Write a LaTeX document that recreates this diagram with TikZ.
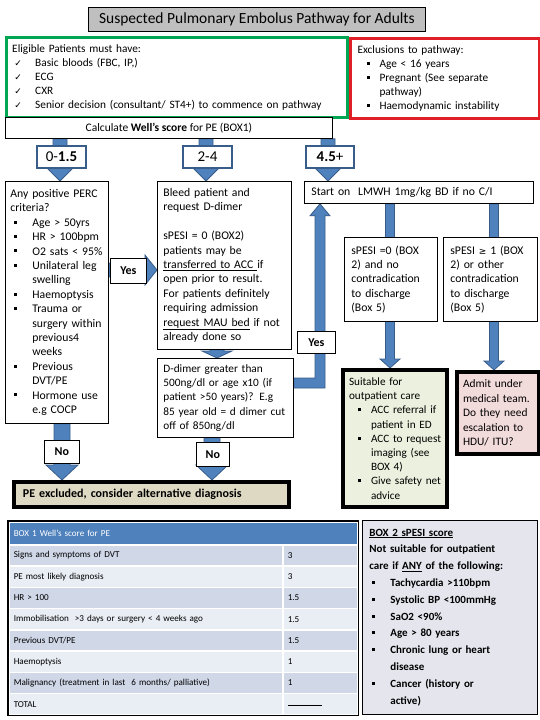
\documentclass[tikz,border=0pt]{standalone}
\usepackage{fontspec}
\setmainfont{Carlito}
\newfontfamily\djv{DejaVu Sans}
\usetikzlibrary{calc,backgrounds}
\definecolor{arrowfill}{RGB}{79,129,189}
\definecolor{arrowline}{RGB}{56,93,138}
\definecolor{titlegray}{RGB}{191,191,191}
\definecolor{eliggreen}{RGB}{0,166,81}
\definecolor{exclred}{RGB}{224,32,38}
\definecolor{pefill}{RGB}{221,217,195}
\definecolor{suitfill}{RGB}{235,241,222}
\definecolor{admitfill}{RGB}{242,220,219}
\definecolor{rowa}{RGB}{208,216,232}
\definecolor{rowb}{RGB}{233,237,244}
\definecolor{boxtwo}{RGB}{229,229,238}
\newcommand{\sqbul}{\rule[2.6pt]{3pt}{3pt}}
\newcommand{\bitem}[3]{\par\hangindent=#2\hangafter=1\noindent\makebox[#2][l]{\hspace{#1}#3}}
\newcommand{\ckm}{\bitem{2pt}{23pt}{{\djv\fontsize{9}{10}\selectfont ✓}}}
\newcommand{\rbul}{\bitem{9pt}{22pt}{\sqbul}}
\newcommand{\pbul}{\bitem{4pt}{22pt}{\sqbul}}
\newcommand{\sbul}{\bitem{9pt}{22pt}{\sqbul}}
\newcommand{\tbul}{\bitem{3pt}{21pt}{\sqbul}}
\newcommand{\nl}{\hfil\break}
\newcommand{\blockdown}[5]{\draw[barrow] ($(#1)+(-#3,0)$) -- ($(#1)+(#3,0)$) -- ($(#2)+(#3,-#5)$) -- ($(#2)+(#4,-#5)$) -- (#2) -- ($(#2)+(-#4,-#5)$) -- ($(#2)+(-#3,-#5)$) -- cycle;}
\newcommand{\blockright}[5]{\draw[barrow] ($(#1)+(0,-#3)$) -- ($(#2)+(-#5,-#3)$) -- ($(#2)+(-#5,-#4)$) -- (#2) -- ($(#2)+(-#5,#4)$) -- ($(#2)+(-#5,#3)$) -- ($(#1)+(0,#3)$) -- cycle;}
\tikzset{
  box/.style={draw, fill=white, line width=0.8pt, anchor=north west, inner xsep=5pt, inner ysep=0pt,
    font=\fontsize{11.7}{14.4}\selectfont,
    execute at begin node={\parindent=0pt\raggedright\rightskip=-12pt plus 2em\hyphenpenalty=10000\exhyphenpenalty=10000}},
  thickbox/.style={box, line width=4pt},
  lab/.style={draw=black, line width=0.8pt, fill=white, anchor=north west, inner sep=0pt, align=center,
    font=\bfseries\fontsize{12}{14}\selectfont},
  scorelab/.style={draw=arrowline, line width=2pt, fill=white, anchor=north west, inner sep=0pt, align=center,
    font=\fontsize{15}{18}\selectfont},
  barrow/.style={fill=arrowfill, draw=arrowline, line width=0.8pt, line join=miter},
  cell/.style={draw=white, line width=1.5pt, anchor=north west, inner xsep=5pt, inner ysep=0pt,
    minimum height=21.25pt, font=\fontsize{9.1}{10}\selectfont, execute at begin node={\raggedright}},
}
\begin{document}
\begin{tikzpicture}[x=1pt,y=-1pt]
\useasboundingbox (0,0) rectangle (540,720);
% title and top boxes
\node[box, fill=titlegray, align=center, minimum width=337pt, minimum height=24pt, font=\fontsize{15.5}{17}\selectfont] (title) at (88,7) {Suspected Pulmonary Embolus Pathway for Adults};
\node[box, draw=eliggreen, line width=2.5pt, inner xsep=6pt, text width=329pt, minimum height=80pt, font=\fontsize{11.3}{14}\selectfont] (elig) at (5,36)
 {Eligible Patients must have:\ckm Basic bloods (FBC, IP,)\ckm ECG\ckm CXR\ckm Senior decision (consultant/ ST4+) to commence on pathway\par};
\node[box, draw=exclred, line width=3pt, inner xsep=7pt, text width=175pt, minimum height=80pt, font=\fontsize{11.3}{14}\selectfont] (excl) at (349,37)
 {Exclusions to pathway:\rbul Age < 16 years\rbul Pregnant (See separate\nl pathway)\rbul Haemodynamic instability\par};
\node[box, align=center, minimum width=327pt, minimum height=21pt, font=\fontsize{11.5}{13}\selectfont] (wells) at (5,117) {Calculate \textbf{Well’s score} for PE (BOX1)};
% main flow boxes
\node[box, text width=93pt, minimum height=242pt] (perc) at (5,181)
 {Any positive PERC\\criteria?\pbul Age > 50yrs\pbul HR > 100bpm\pbul O2 sats < 95\%\pbul Unilateral leg\nl swelling\pbul Haemoptysis\pbul Trauma or\nl surgery within\nl previous4\nl weeks\pbul Previous\nl DVT/PE\pbul Hormone use\nl e.g COCP\par};
\node[box, inner xsep=6pt, text width=122pt, minimum height=168pt] (bleed) at (157,181)
 {Bleed patient and\\request D-dimer\\\mbox{}\\sPESI = 0 (BOX2)\\patients may be\\\underline{transferred to ACC }if\\open prior to result.\\For patients definitely\\requiring admission\\\underline{request MAU bed} if not\\already done so};
\node[box, inner xsep=6pt, text width=124pt, minimum height=79pt, font=\fontsize{11.3}{14.4}\selectfont] (ddimer) at (157,358)
 {D-dimer greater than\\500ng/dl or age x10 (if\\patient >50 years)? E.g\\85 year old = d dimer cut\\off of 850ng/dl};
\node[box, inner xsep=7pt, text width=215pt, minimum height=22pt] (start) at (304,181) {Start on\ \ LMWH 1mg/kg BD if no C/I};
\node[box, inner xsep=7pt, text width=79pt, minimum height=84pt] (spesi0) at (344,237)
 {sPESI =0 (BOX\\2) and no\\contradication\\to discharge\\(Box 5)};
\node[box, inner xsep=7pt, text width=80pt, minimum height=84pt] (spesi1) at (443,237)
 {sPESI {\djv\fontsize{9}{10}\selectfont ≥} 1 (BOX\\2) or other\\contradication\\to discharge\\(Box 5)};
\node[thickbox, fill=suitfill, inner xsep=6pt, text width=92pt, minimum height=137pt, font=\fontsize{11.2}{14.2}\selectfont] (suit) at (341,368)
 {Suitable for\\outpatient care\sbul ACC referral if\nl patient in ED\sbul ACC to request\nl imaging (see\nl BOX 4)\sbul Give safety net\nl advice\par};
\node[thickbox, fill=admitfill, inner xsep=6pt, text width=70pt, minimum height=82pt, font=\fontsize{11.4}{14.4}\selectfont] (admit) at (455,370)
 {Admit under\\medical team.\\Do they need\\escalation to\\HDU/ ITU?};
\node[thickbox, fill=pefill, inner xsep=9pt, text width=257pt, minimum height=25pt, font=\bfseries\fontsize{12}{14}\selectfont] (pe) at (12,480)
 {PE excluded, consider alternative diagnosis};
% labels on arrows
\node[scorelab, minimum width=49pt, minimum height=22pt] (s1) at (36,145) {0-\textbf{1.5}};
\node[scorelab, minimum width=49pt, minimum height=22pt] (s2) at (182,145) {2-4};
\node[scorelab, minimum width=48pt, minimum height=22pt] (s3) at (305,145) {\textbf{4.5}+};
\node[lab, minimum width=36pt, minimum height=25pt] (yesl) at (110,258) {Yes};
\node[lab, minimum width=38pt, minimum height=22pt] (yesr) at (297,331) {Yes};
\node[lab, minimum width=35pt, minimum height=23pt] (nol) at (44,440) {No};
\node[lab, minimum width=33pt, minimum height=24pt] (nom) at (196,442) {No};
% table box 1
\node[cell, fill=arrowfill, text=white, minimum width=349pt, minimum height=23pt, text width=339pt] (th) at (8,521) {BOX 1 Well’s score for PE};
\foreach \i/\t/\v in {1/{Signs and symptoms of DVT}/3, 2/{PE most likely diagnosis}/3, 3/{HR > 100}/1.5,
  4/{Immobilisation\ \ >3 days or surgery < 4 weeks ago}/1.5, 5/{Previous DVT/PE}/1.5, 6/{Haemoptysis}/1,
  7/{Malignancy (treatment in last\ \ 6 months/ palliative)}/1, 8/{TOTAL}/{\rule[-2pt]{34pt}{0.6pt}}}{
  \pgfmathsetmacro{\yy}{544+(\i-1)*21.25}
  \pgfmathtruncatemacro{\odd}{mod(\i,2)}
  \ifnum\odd=1 \def\rf{rowa}\else\def\rf{rowb}\fi
  \node[cell, fill=\rf, minimum width=274pt, text width=264pt] (r\i) at (8,\yy) {\t};
  \node[cell, fill=\rf, minimum width=75pt, text width=65pt] (v\i) at (282,\yy) {\v};
}
\draw[line width=1.5pt] (th.north west) rectangle (v8.south east);
% box 2
\node[box, fill=boxtwo, inner xsep=7pt, text width=161pt, minimum height=194pt, font=\bfseries\fontsize{11}{16.8}\selectfont] (box2) at (362,520)
 {\underline{BOX 2 sPESI score}\\Not suitable for outpatient\\care if \underline{ANY} of the following:\tbul Tachycardia >110bpm\tbul Systolic BP <100mmHg\tbul SaO2 <90\%\tbul Age > 80 years\tbul Chronic lung or heart\nl disease\tbul Cancer (history or\nl active)\par};
% arrows
\begin{scope}[on background layer]
\fill[white] (0,0) rectangle (540,720);
\coordinate (c1) at (60,0);
\coordinate (c2) at (206,0);
\coordinate (c3) at (328,0);
\coordinate (c4) at (390,0);
\coordinate (c5) at (494,0);
\coordinate (c6) at (217,0);
\coordinate (c7) at (62,0);
\coordinate (c8) at (212,0);
\coordinate (colr) at (320,0);
\coordinate (ryl) at (0,270);
\coordinate (ry) at (0,383);
\blockdown{wells.south -| c1}{perc.north -| c1}{7}{13}{13}
\blockdown{wells.south -| c2}{bleed.north -| c2}{7}{13}{13}
\blockdown{wells.south -| c3}{start.north -| c3}{7}{13}{13}
\blockdown{start.south -| c4}{suit.north -| c4}{4.5}{10}{9}
\blockdown{start.south -| c5}{admit.north -| c5}{4.5}{10}{9}
\blockdown{bleed.south -| c6}{ddimer.north -| c6}{7}{15}{7}
\blockdown{perc.south -| c7}{pe.north -| c7}{8}{16}{15}
\blockdown{ddimer.south -| c8}{pe.north -| c8}{8}{16}{15}
\blockright{perc.east |- ryl}{bleed.west |- ryl}{7}{15}{12}
\coordinate (A) at (ddimer.east |- ry);
\coordinate (K) at (colr |- ry);
\coordinate (T) at (start.south -| colr);
\draw[barrow] ($(A)+(0,5)$) -- ($(K)+(5,5)$) -- ($(T)+(5,12)$) -- ($(T)+(10,12)$) -- (T) -- ($(T)+(-10,12)$) -- ($(T)+(-5,12)$) -- ($(K)+(-5,-5)$) -- ($(A)+(0,-5)$) -- cycle;
\end{scope}
\end{tikzpicture}
\end{document}
